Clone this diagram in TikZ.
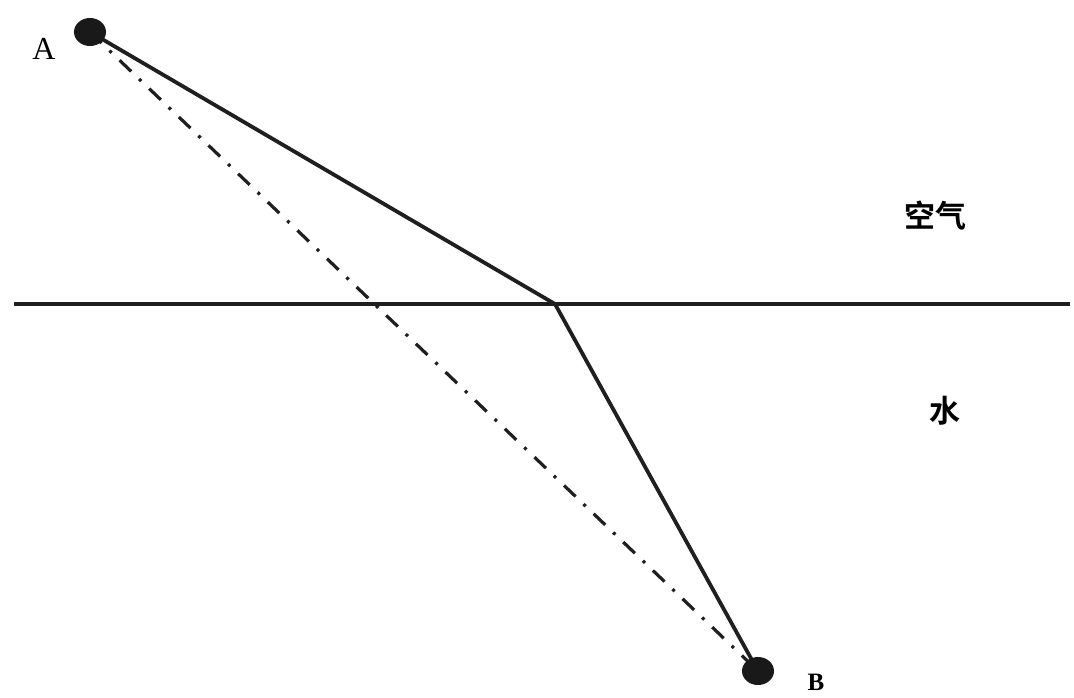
\documentclass[tikz,border=0pt]{standalone}
\usepackage{fontspec}
\setmainfont{Liberation Serif}
\newfontfamily\cjk{Noto Sans CJK SC}[BoldFont={* Bold}]
\usetikzlibrary{shapes.geometric}
\begin{document}
\begin{tikzpicture}[x=1pt,y=-1pt,
  ray/.style={line width=3.8pt, line join=round, color=black!88},
  guide/.style={line width=3.2pt, color=black!88, dash pattern=on 16pt off 11pt on 3pt off 11pt},
  surf/.style={line width=3.4pt, color=black!88},
  dot/.style={ellipse, fill=black!90, minimum width=32pt, minimum height=28pt, inner sep=0pt},
  medium/.style={font=\cjk\bfseries\fontsize{31}{33}\selectfont, inner sep=0pt}]
\useasboundingbox (0,0) rectangle (1074,697);
\coordinate (L) at (14,304);
\coordinate (R) at (1070,304);
\coordinate (O) at (555,304);
\coordinate (Ac) at (90,32);
\coordinate (Bc) at (758,671);
\draw[surf] (L) -- (R);
\draw[guide] (Ac) -- (Bc);
\draw[ray] (Ac) -- (O) -- (Bc);
\node[dot] (A) at (Ac) {};
\node[dot] (B) at (Bc) {};
\node[font=\fontsize{32}{34}\selectfont, inner sep=0pt, anchor=base] (la) at (44,59) {A};
\node[font=\bfseries\fontsize{25}{27}\selectfont, inner sep=0pt, anchor=base] (lb) at (816,690) {B};
\node[medium] (air) at (935,216) {空气};
\node[medium] (water) at (945,411) {水};
\end{tikzpicture}
\end{document}
